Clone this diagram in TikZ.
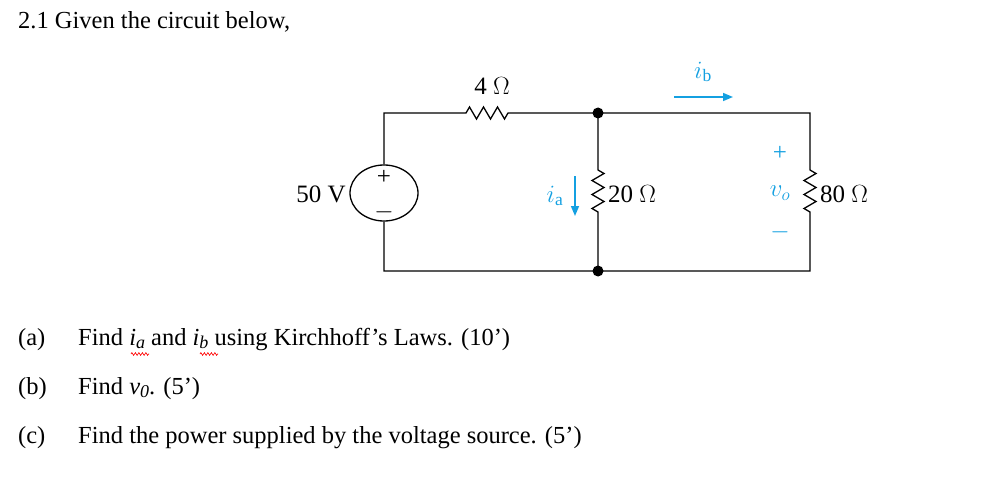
\documentclass[tikz,border=0pt]{standalone}
\usepackage{fontspec}
\setmainfont{Liberation Serif}
\usetikzlibrary{arrows.meta,decorations.pathmorphing,shapes.geometric}
\definecolor{cy}{RGB}{20,160,225}
\begin{document}
\begin{tikzpicture}[x=1pt,y=-1pt,
  txt/.style={inner sep=0pt,anchor=west,font=\fontsize{24.5}{28}\selectfont},
  lbl/.style={inner sep=0pt,font=\fontsize{25}{28}\selectfont},
  cl/.style={inner sep=0pt,text=cy,font=\fontsize{25}{28}\selectfont},
  wire/.style={line width=1.3pt},
  carr/.style={cy,line width=1.6pt,-{Triangle[length=10pt,width=8pt]}},
  dot/.style={circle,fill,inner sep=0pt,minimum size=11pt},
  wavy/.style={red,line width=0.6pt,decorate,decoration={zigzag,segment length=3.5pt,amplitude=1.4pt}}]
\useasboundingbox (0,0) rectangle (988,484);
\node[txt] (title) at (18,22) {2.1 Given the circuit below,};
\coordinate (tl) at (384,113); \coordinate (bl) at (384,271);
\coordinate (tr) at (810,113); \coordinate (br) at (810,271);
\node[dot] (nt) at (598,113) {}; \node[dot] (nb) at (598,271) {};
\node[draw,ellipse,line width=1.3pt,minimum width=68pt,minimum height=56pt,inner sep=0pt] (src) at (384,193) {};
\node[lbl] at (384,177) {+}; \node[lbl] at (384,212) {$-$};
\node[lbl,anchor=east] (v50) at (346,194) {50 V};
\draw[wire] (src.north) -- (tl) -- (466,113) -- ++(3.5,-6) -- ++(7,12) -- ++(7,-12) -- ++(7,12) -- ++(7,-12) -- ++(7,12) -- ++(3.5,-6) -- (nt.center) -- (tr) -- (810,170)
  -- ++(6,3.5) -- ++(-12,7) -- ++(12,7) -- ++(-12,7) -- ++(12,7) -- ++(-12,7) -- ++(6,3.5) -- (br) -- (nb.center) -- (bl) -- (src.south);
\draw[wire] (nt.center) -- (598,170) -- ++(6,3.5) -- ++(-12,7) -- ++(12,7) -- ++(-12,7) -- ++(12,7) -- ++(-12,7) -- ++(6,3.5) -- (nb.center);
\node[lbl] (r4) at (492,86) {4 $\Omega$};
\node[lbl,anchor=west] (r20) at (608,194) {20 $\Omega$};
\node[lbl,anchor=west] (r80) at (820,194) {80 $\Omega$};
\coordinate (a1) at (575,176); \coordinate (a2) at (575,216);
\draw[carr] (a1) -- (a2);
\node[cl] (ia) at (555,196) {$i_{\mathrm{a}}$};
\coordinate (b1) at (674,97); \coordinate (b2) at (733,97);
\draw[carr] (b1) -- (b2);
\node[cl] (ib) at (703,72) {$i_{\mathrm{b}}$};
\node[cl] (vp) at (780,153) {+};
\node[cl] (vo) at (780,193) {$v_o$};
\node[cl] (vm) at (780,232) {$-$};
\node[txt] (qa) at (18,340) {(a)};
\node[txt] (qat) at (78,340) {Find \textit{i\raisebox{-2.5pt}{\fontsize{18}{18}\selectfont a}} and \textit{i\raisebox{-2.5pt}{\fontsize{18}{18}\selectfont b}} using Kirchhoff’s Laws. (10’)};
\draw[wavy] (131,354) -- (149,354);
\draw[wavy] (200,354) -- (218,354);
\node[txt] (qb) at (18,389) {(b)};
\node[txt] (qbt) at (78,389) {Find \textit{v\raisebox{-2.5pt}{\fontsize{18}{18}\selectfont 0}}. (5’)};
\node[txt] (qc) at (18,438) {(c)};
\node[txt] (qct) at (78,438) {Find the power supplied by the voltage source. (5’)};
\end{tikzpicture}
\end{document}
